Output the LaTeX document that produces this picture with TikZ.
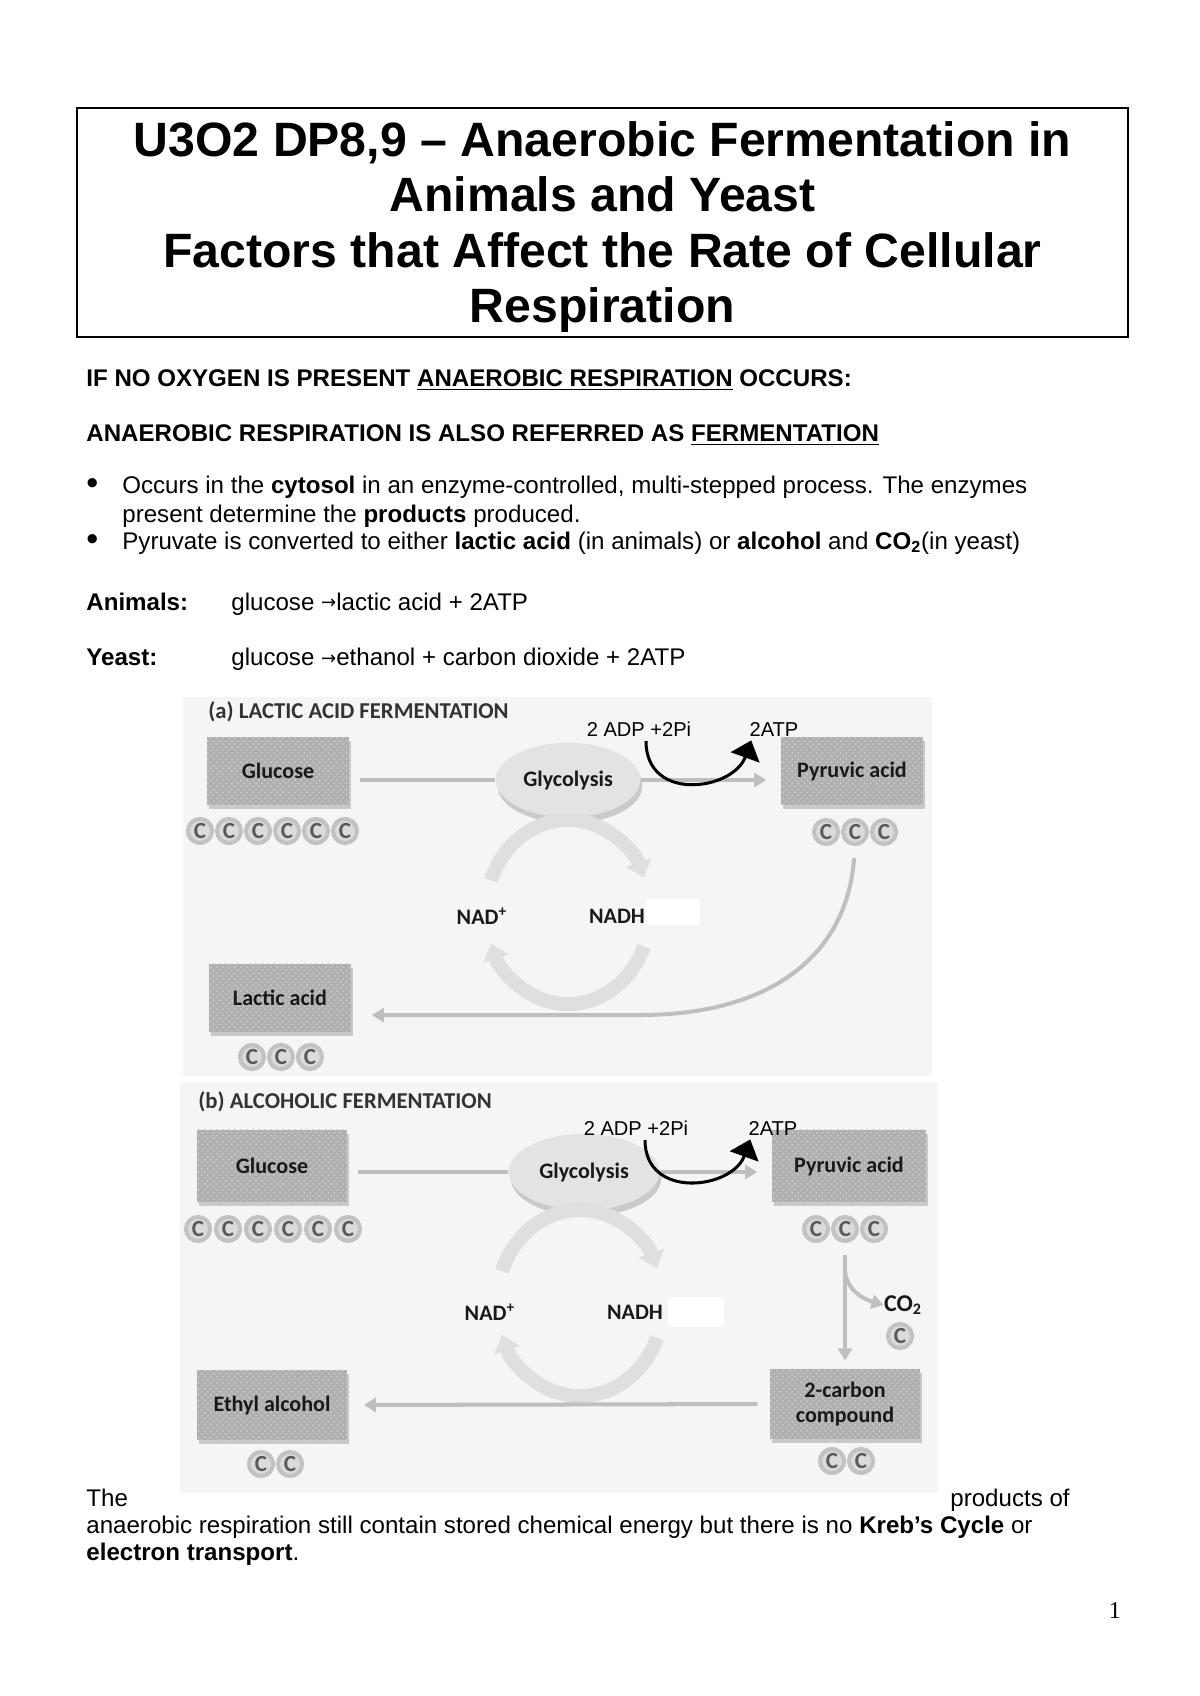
\documentclass[tikz,border=0pt]{standalone}
\usepackage{fontspec}
\setmainfont{Liberation Sans}
\newfontfamily\diagfont{Carlito}
\newfontfamily\pagefont{Liberation Serif}
\newfontfamily\arrowfont{DejaVu Sans}
\usetikzlibrary{positioning,shapes.geometric,arrows.meta,patterns,shadows}

\newcommand{\yields}{\raisebox{0.5pt}{\arrowfont\fontsize{9}{9}\selectfont →}}
\newcommand{\bigdot}{\raisebox{-0.5pt}{\fontsize{17}{17}\selectfont •}}

\tikzset{
  txt/.style={anchor=base west,inner sep=0pt,font=\fontsize{12}{13.8}\selectfont},
  small/.style={anchor=base,inner sep=0pt,font=\fontsize{10}{12}\selectfont},
  head/.style={anchor=base west,inner sep=0pt,font=\diagfont\bfseries\fontsize{11.3}{13}\selectfont,text=black!80},
  lbl/.style={inner sep=0pt,font=\diagfont\bfseries\fontsize{11}{13}\selectfont,text=black!90},
  molbox/.style={rectangle,fill=gray!62,postaction={pattern=crosshatch dots,pattern color=gray!40},
    drop shadow={shadow xshift=1pt,shadow yshift=-2pt,fill=gray!65,opacity=.6},
    minimum width=71pt,minimum height=34pt,align=center,inner sep=2pt,
    font=\diagfont\bfseries\fontsize{11}{12.5}\selectfont,text=black!90},
  glybox/.style={ellipse,fill=gray!22,
    drop shadow={shadow xshift=1pt,shadow yshift=-3pt,fill=gray!55,opacity=.7},
    minimum width=72pt,minimum height=37pt,inner sep=0pt,
    font=\diagfont\bfseries\fontsize{11}{13}\selectfont,text=black!90},
  carbon/.style={circle,fill=gray!28,draw=gray!48,line width=2pt,minimum size=12pt,inner sep=0pt,
    font=\diagfont\bfseries\fontsize{11.5}{12}\selectfont,text=gray!70!black},
  flow/.style={draw=gray!50,line width=2pt,-{Triangle[width=7pt,length=6pt]}},
  flowline/.style={draw=gray!50,line width=2pt},
  cycle/.style={draw=gray!25,line width=7pt,-{Triangle[width=13pt,length=8pt]}},
  atp/.style={draw=black,line width=1.5pt,-{Triangle[width=15pt,length=9pt]}},
}

\begin{document}
\begin{tikzpicture}[x=0.0175cm,y=-0.0175cm]
  \fill[white] (0,0) rectangle (1200,1696);
  \useasboundingbox (0,0) rectangle (1200,1696);

  % title
  \draw[line width=.8pt] (77,108) rectangle (1128,337);
  \node[align=center,inner sep=0pt,font=\fontsize{24}{27.5}\selectfont\bfseries] at (602.5,227) (title)
    {U3O2 DP8,9 – Anaerobic Fermentation in\\Animals and Yeast\\Factors that Affect the Rate of Cellular\\Respiration};

  % text above the figure
  \node[txt,font=\fontsize{12}{13.8}\selectfont\bfseries] at (86,386) (l1) {IF NO OXYGEN IS PRESENT \underline{ANAEROBIC RESPIRATION} OCCURS:};
  \node[txt,font=\fontsize{12}{13.8}\selectfont\bfseries] at (86,441) (l2) {ANAEROBIC RESPIRATION IS ALSO REFERRED AS \underline{FERMENTATION}};
  \node[txt] at (86,493) (b1) {\bigdot};
  \node[txt] at (122,493) (l3) {Occurs in the \textbf{cytosol} in an enzyme-controlled, multi-stepped process. The enzymes};
  \node[txt] at (122,522) (l4) {present determine the \textbf{products} produced.};
  \node[txt] at (86,549) (b2) {\bigdot};
  \node[txt] at (122,549) (l5) {Pyruvate is converted to either \textbf{lactic acid} (in animals) or \textbf{alcohol} and \textbf{CO\textsubscript{2}}(in yeast)};
  \node[txt] at (86,610) (an) {\textbf{Animals:}};
  \node[txt] at (231,610) (aneq) {glucose \yields lactic acid + 2ATP};
  \node[txt] at (86,665) (ye) {\textbf{Yeast:}};
  \node[txt] at (231,665) (yeeq) {glucose \yields ethanol + carbon dioxide + 2ATP};

  % (a) lactic acid fermentation
  \fill[gray!8] (183,697) rectangle (932,1076);
  \node[head] at (208,718) (hda) {(a) LACTIC ACID FERMENTATION};
  \node[molbox] at (278,771) (glua) {Glucose};
  \foreach \i in {0,...,5}
    \node[carbon] at (200+29*\i,831) (gca\i) {C};
  \node[glybox] at (568,780) (glya) {Glycolysis};
  \node[molbox] at (852,771) (pyra) {Pyruvic acid};
  \foreach \i in {0,1,2}
    \node[carbon] at (826+29*\i,832) (pca\i) {C};
  \node[molbox] at (280,998) (lacta) {Lactic acid};
  \foreach \i in {0,1,2}
    \node[carbon] at (252+29*\i,1057) (lca\i) {C};
  \draw[flowline,shorten <=5pt] (glua.east |- glya.center) -- (glya.west);
  \draw[flow,shorten >=7pt] (glya.east) -- (pyra.west |- glya.east);
  \node[small] at (639,736) (adpa) {2 ADP +2Pi};
  \node[small] at (774,736) (atpa) {2ATP};
  \coordinate (adpouta) at (646,741);
  \draw[atp] (adpouta) .. controls +(0,62) and +(-18,50) .. ([xshift=1pt,yshift=-2pt]atpa.south west);
  % NAD cycle
  \coordinate (ringa) at (568,912);
  \draw[cycle] (ringa) ++(200:82 and 92) arc[start angle=200,end angle=338,x radius=82,y radius=92];
  \draw[cycle] (ringa) ++(22:82 and 92) arc[start angle=22,end angle=160,x radius=82,y radius=92];
  \node[lbl] at (482,916) (nada) {NAD\textsuperscript{+}};
  \node[lbl] at (617,916) (nadha) {NADH};
  \node[fill=white,minimum width=26.5pt,minimum height=12.5pt,inner sep=0pt] at (673,912) (blanka) {};
  \coordinate (lacbend) at (640,1015);
  \draw[flow,shorten <=6pt] (pca1.south) .. controls +(-8,110) and +(130,0) .. (lacbend)
    -- ([xshift=10pt,yshift=-8.5pt]lacta.east);

  % (b) alcoholic fermentation
  \fill[gray!8] (180,1082) rectangle (938,1493);
  \node[head] at (198,1108) (hdb) {(b) ALCOHOLIC FERMENTATION};
  \node[molbox,minimum width=75pt,minimum height=36pt] at (272,1166) (glub) {Glucose};
  \foreach \i in {0,...,5}
    \node[carbon] at (198+30*\i,1229) (gcb\i) {C};
  \node[glybox,minimum width=75pt,minimum height=38pt] at (584,1172) (glyb) {Glycolysis};
  \node[molbox,minimum width=77pt,minimum height=36pt] at (849,1166) (pyrb) {Pyruvic acid};
  \foreach \i in {0,1,2}
    \node[carbon] at (816+29*\i,1229) (pcb\i) {C};
  \node[molbox,minimum width=75pt,minimum height=35pt] at (845,1404) (twoc) {2-carbon\\compound};
  \foreach \i in {0,1}
    \node[carbon] at (832+29*\i,1461) (tcb\i) {C};
  \node[molbox,minimum width=75pt,minimum height=35pt] at (272,1405) (ethb) {Ethyl alcohol};
  \foreach \i in {0,1}
    \node[carbon] at (261+29*\i,1464) (ecb\i) {C};
  \node[lbl,font=\diagfont\bfseries\fontsize{12}{13}\selectfont] at (903,1305) (co2) {CO\textsubscript{2}};
  \node[carbon] at (900,1336) (cco2) {C};
  \draw[flowline,shorten <=5pt] (glub.east |- glyb.center) -- (glyb.west);
  \draw[flow,shorten >=7pt] (glyb.east) -- (pyrb.west |- glyb.east);
  \node[small] at (636,1135) (adpb) {2 ADP +2Pi};
  \node[small] at (773,1135) (atpb) {2ATP};
  \coordinate (adpoutb) at (645,1140);
  \draw[atp] (adpoutb) .. controls +(0,60) and +(-18,50) .. ([xshift=1pt,yshift=-2pt]atpb.south west);
  % NAD cycle
  \coordinate (ringb) at (580,1303);
  \draw[cycle] (ringb) ++(200:83 and 93) arc[start angle=200,end angle=338,x radius=83,y radius=93];
  \draw[cycle] (ringb) ++(22:83 and 93) arc[start angle=22,end angle=160,x radius=83,y radius=93];
  \node[lbl] at (490,1312) (nadb) {NAD\textsuperscript{+}};
  \node[lbl] at (635,1312) (nadhb) {NADH};
  \node[fill=white,minimum width=28pt,minimum height=15pt,inner sep=0pt] at (696,1312) (blankb) {};
  \draw[flow,shorten <=6pt,shorten >=4pt] (pcb1.south) -- (twoc.north);
  \coordinate (cobranch) at (845,1272);
  \draw[flow] (cobranch) .. controls +(3,22) and +(-14,-4) .. (co2.west);
  \draw[flow,shorten <=6pt,shorten >=8pt] (twoc.west) -- (ethb.east);

  % text below the figure
  \node[txt] at (86,1506) (l6) {The};
  \node[txt] at (950,1506) (l6b) {products of};
  \node[txt] at (86,1533) (l7) {anaerobic respiration still contain stored chemical energy but there is no \textbf{Kreb’s Cycle} or};
  \node[txt] at (86,1560) (l8) {\textbf{electron transport}.};
  \node[anchor=base,inner sep=0pt,font=\pagefont\fontsize{12}{14}\selectfont] at (1115,1618) (pnum) {1};
\end{tikzpicture}
\end{document}
